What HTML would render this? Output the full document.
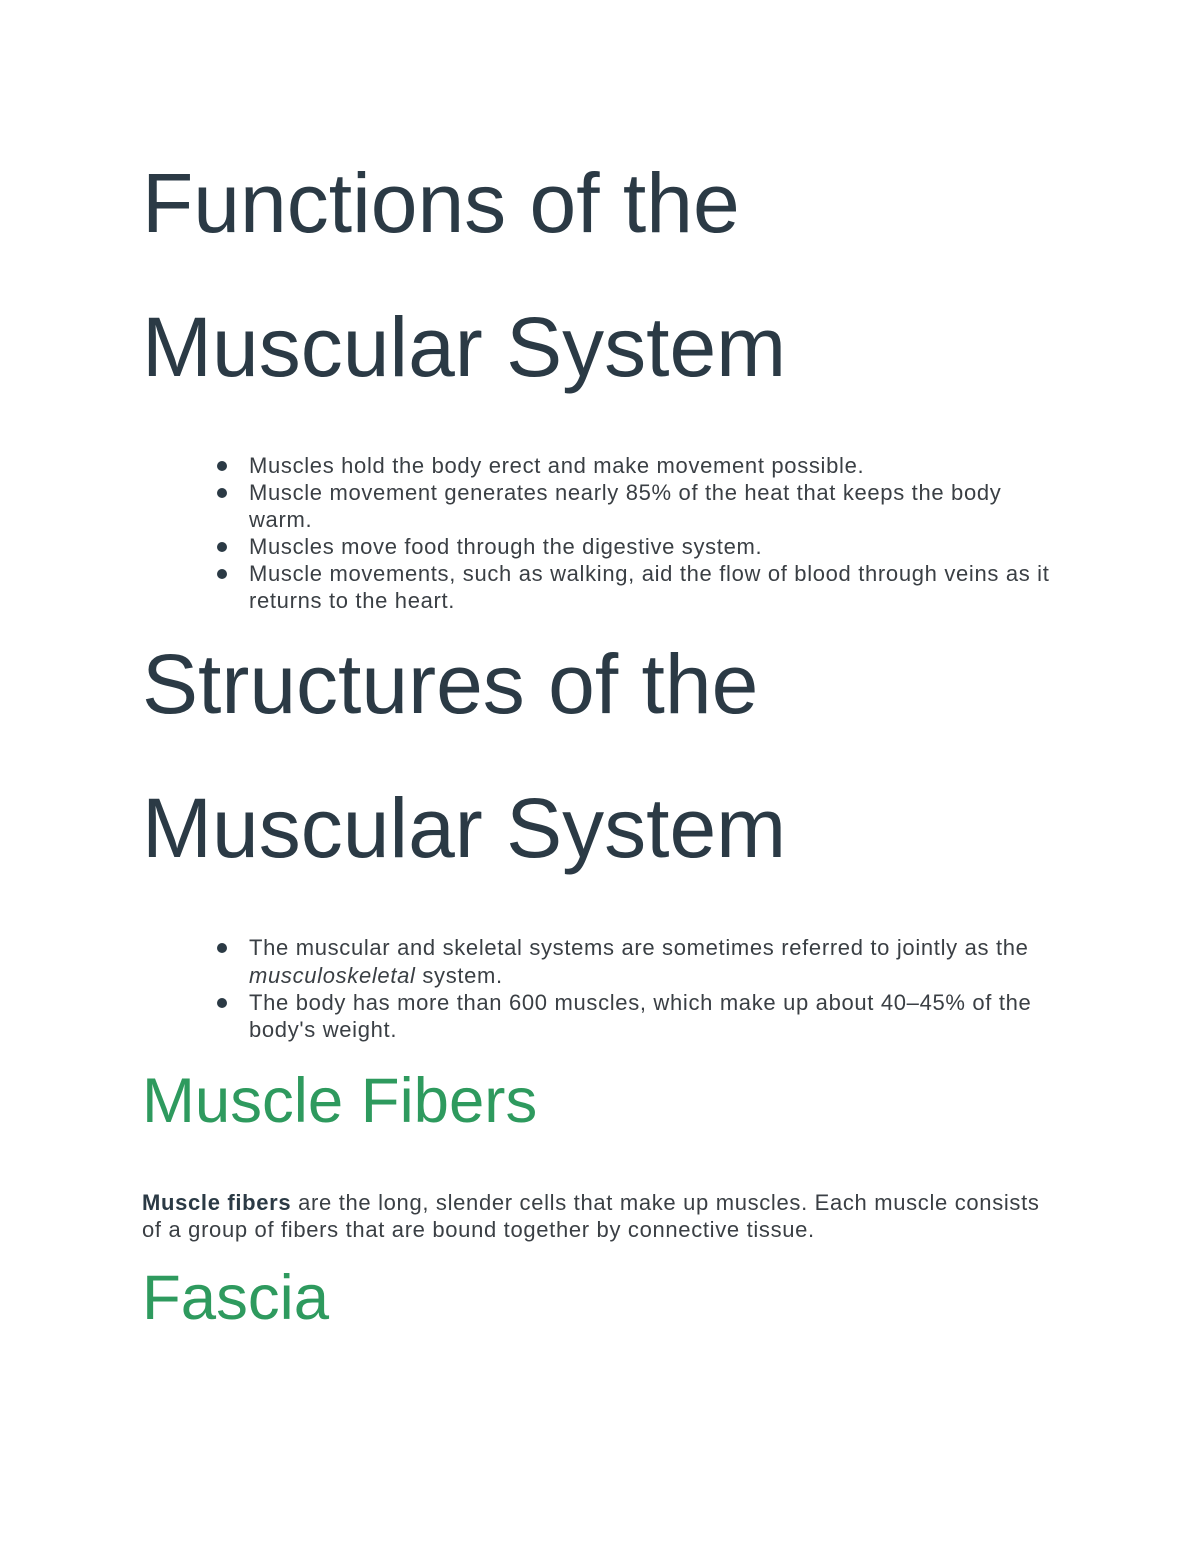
<!DOCTYPE html>
<html><head><meta charset="utf-8"><style>
body{margin:0;width:1200px;height:1553px;background:#fff;position:relative;font-family:"Liberation Sans",Arial,sans-serif;overflow:hidden}
.t{position:absolute;left:142px;font-size:84px;line-height:84px;color:#2b3a45;white-space:nowrap}
.g{position:absolute;left:142px;font-size:63.5px;line-height:64px;color:#2e9a5e;white-space:nowrap}
.l{position:absolute;left:249px;font-size:22px;line-height:22px;color:#3a3f44;white-space:nowrap;letter-spacing:0.67px}
.p{position:absolute;left:142px;font-size:22px;line-height:22px;color:#3a3f44;white-space:nowrap;letter-spacing:0.67px}
.b{position:absolute;left:217px;width:10px;height:10px;border-radius:50%;background:#2b3a45}
</style></head><body>
<div class="t" style="top:161px">Functions of the</div>
<div class="t" style="top:305px">Muscular System</div>
<div class="b" style="top:461px"></div><div class="l" style="top:455px">Muscles hold the body erect and make movement possible.</div>
<div class="b" style="top:488px"></div><div class="l" style="top:482px">Muscle movement generates nearly 85% of the heat that keeps the body</div>
<div class="l" style="top:509px">warm.</div>
<div class="b" style="top:542px"></div><div class="l" style="top:536px">Muscles move food through the digestive system.</div>
<div class="b" style="top:569px"></div><div class="l" style="top:563px">Muscle movements, such as walking, aid the flow of blood through veins as it</div>
<div class="l" style="top:590px">returns to the heart.</div>
<div class="t" style="top:642px">Structures of the</div>
<div class="t" style="top:786px">Muscular System</div>
<div class="b" style="top:943px"></div><div class="l" style="top:937px">The muscular and skeletal systems are sometimes referred to jointly as the</div>
<div class="l" style="top:965px"><i>musculoskeletal</i> system.</div>
<div class="b" style="top:998px"></div><div class="l" style="top:992px">The body has more than 600 muscles, which make up about 40–45% of the</div>
<div class="l" style="top:1019px">body's weight.</div>
<div class="g" style="top:1069px">Muscle Fibers</div>
<div class="p" style="top:1192px"><b style="color:#2b3a45">Muscle fibers</b> are the long, slender cells that make up muscles. Each muscle consists</div>
<div class="p" style="top:1219px">of a group of fibers that are bound together by connective tissue.</div>
<div class="g" style="top:1266px">Fascia</div>
</body></html>
